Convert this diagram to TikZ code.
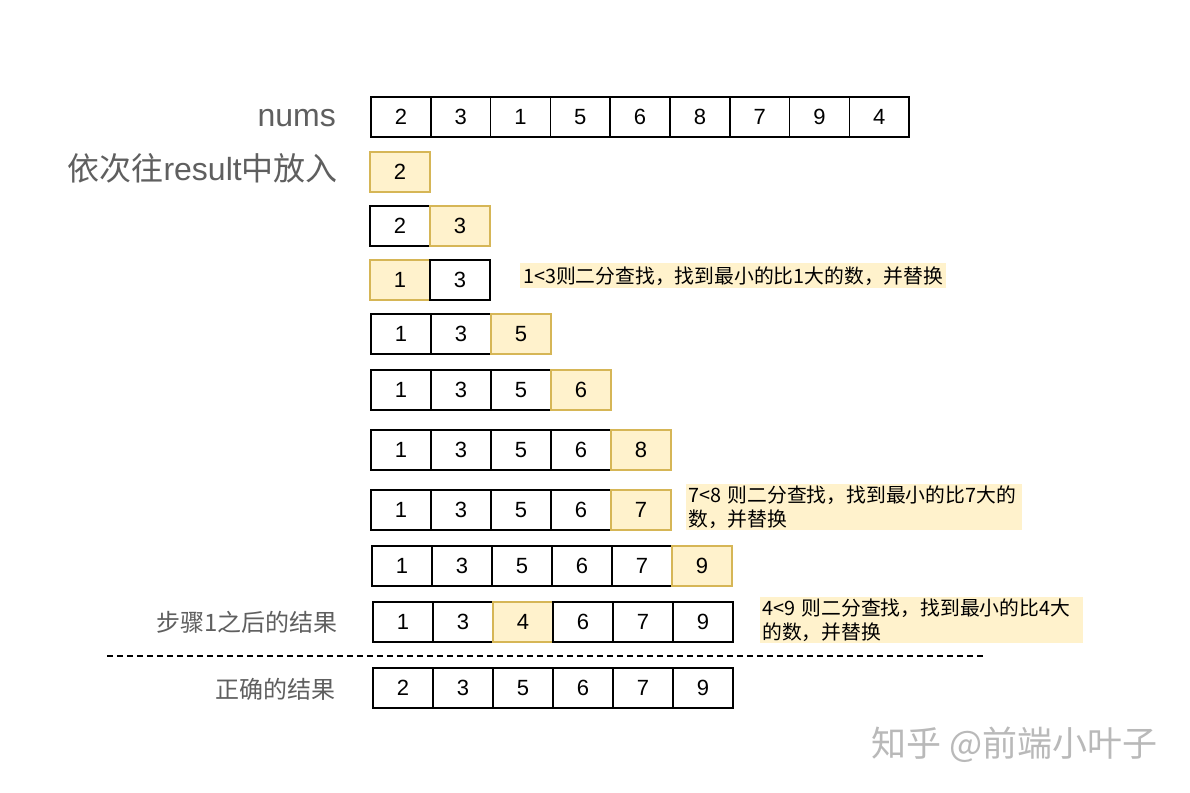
\documentclass[tikz,border=0pt]{standalone}
\usepackage{fontspec}
\setmainfont{Liberation Sans}
\newfontfamily\cjk{Noto Sans CJK SC}
\definecolor{labelgray}{RGB}{95,95,95}
\definecolor{hlfill}{RGB}{255,242,204}
\definecolor{hldraw}{RGB}{214,182,86}
\definecolor{notefill}{RGB}{255,242,204}
\definecolor{wmgray}{RGB}{185,185,185}
\tikzset{
  cell/.style={draw=black, line width=1.6pt, fill=white, minimum width=60pt, minimum height=40pt, inner sep=0pt, font=\fontsize{22}{24}\selectfont},
  hcell/.style={cell, draw=hldraw, fill=hlfill},
  cellsty/.code={\ifnum\i=\hl\relax\tikzset{hcell}\else\tikzset{cell}\fi},
  biglabel/.style={anchor=east, text=labelgray, inner sep=0pt, font=\fontsize{32}{36}\selectfont},
  smalllabel/.style={anchor=east, text=labelgray, inner sep=0pt, font=\cjk\fontsize{24}{28}\selectfont},
  note/.style={anchor=north west, fill=notefill, inner xsep=2pt, inner ysep=0pt, align=left, font=\cjk\fontsize{19.8}{24}\selectfont},
  dashline/.style={line width=1.5pt, dash pattern=on 6pt off 4pt}
}
\begin{document}
\begin{tikzpicture}[x=1pt,y=-1pt]
\useasboundingbox (0,0) rectangle (1190,792);
\fill[white] (0,0) rectangle (1190,792);
% cell rows
\foreach \r/\x/\y/\w/\hl/\vals in {
  0/371/97/59.8/0/{2,3,1,5,6,8,7,9,4},
  1/370/152/60/1/{2},
  2/370/206/60/2/{2,3},
  3/370/260/60/1/{1,3},
  4/371/314/60/3/{1,3,5},
  5/371/370/60/4/{1,3,5,6},
  6/371/430/60/5/{1,3,5,6,8},
  7/371/490/60/5/{1,3,5,6,7},
  8/372/546/60/6/{1,3,5,6,7,9},
  9/373/602/60/3/{1,3,4,6,7,9},
  10/373/668/60/0/{2,3,5,6,7,9}} {
  \foreach \v [count=\i] in \vals {
    \node[cellsty, minimum width=\w pt] (r\r-\i) at ({\x+\w*\i-\w/2},{\y+20}) {\v};
  }
}
% labels
\node[biglabel] (lnums) at (336,118) {nums};
\node[biglabel] (lput) at (338,168) {{\cjk 依次往}result{\cjk 中放入}};
\node[smalllabel] (lstep) at (338,622) {步骤1之后的结果};
\node[smalllabel] (lright) at (336,689) {正确的结果};
% notes
\node[note, minimum width=426pt, minimum height=25pt] (n1) at (520,263) {1<3则二分查找，找到最小的比1大的数，并替换};
\node[note, text width=332pt, minimum height=46pt] (n2) at (686,484) {7<8 则二分查找，找到最小的比7大的\\数，并替换};
\node[note, text width=319pt, minimum height=46pt] (n3) at (760,597) {4<9 则二分查找，找到最小的比4大\\的数，并替换};
% dashed separator
\coordinate (dl) at (107,656);
\coordinate (dr) at (985,656);
\draw[dashline] (dl) -- (dr);
% watermark
\node[anchor=west, text=wmgray, inner sep=0pt, font=\cjk\fontsize{35}{38}\selectfont] (wm) at (871,745) {知乎 @前端小叶子};
\end{tikzpicture}
\end{document}
